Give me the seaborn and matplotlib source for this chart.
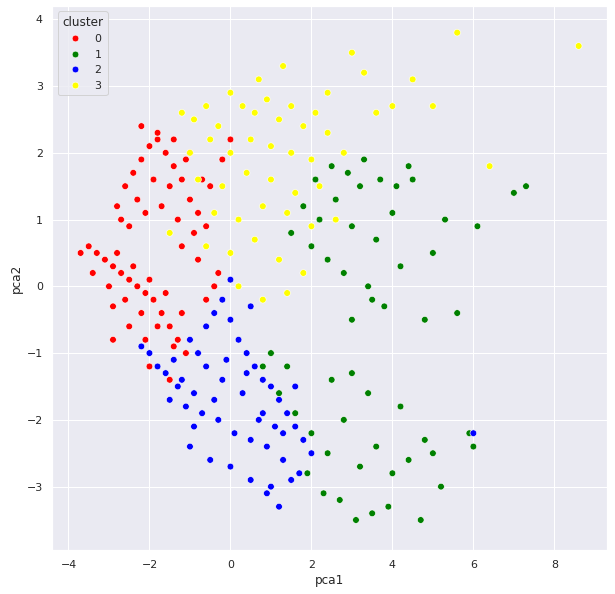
import pandas as pd
import matplotlib
matplotlib.use("Agg")
from matplotlib import pyplot as plt
import seaborn as sns
sns.set()

# points (representative sample per cluster)
red_x = [-3.7, -3.5, -3.3, -3.1, -2.9, -2.7, -2.5, -2.3, -2.1, -1.9, -1.7, -1.5, -1.3, -1.1,
         -3.4, -3.0, -2.6, -2.2, -1.8, -1.4, -2.8, -2.4, -2.0, -1.6, -1.2, -2.9, -2.5, -2.1,
         -2.8, -2.6, -2.4, -2.2, -2.0, -1.8, -1.6, -1.4, -1.2, -1.0, -0.8, -0.6,
         -2.7, -2.3, -1.9, -1.5, -1.1, -0.7, -2.5, -2.1, -1.7, -1.3, -0.9, -2.2, -1.8, -1.4,
         -1.0, -0.5, -0.3, -0.8, -0.4, -1.2, -0.6, -2.9, -2.0, -1.5, -0.2, 0.0]
red_y = [0.5, 0.6, 0.5, 0.4, 0.3, 0.2, 0.1, 0.0, -0.1, -0.2, -0.4, -0.6, -0.8, -1.0,
         0.2, 0.0, -0.2, -0.4, -0.6, -0.9, 0.5, 0.3, 0.1, -0.1, -0.4, -0.3, -0.6, -0.8,
         1.2, 1.5, 1.7, 1.9, 2.1, 2.2, 2.0, 1.8, 1.6, 1.3, 1.1, 0.9,
         1.0, 1.3, 1.6, 1.5, 1.9, 1.6, 0.9, 1.1, 1.2, 1.0, 0.8, 2.4, 2.3, 2.2,
         2.0, 1.5, 0.2, 0.4, 0.0, 0.6, -0.2, -0.8, -1.2, -1.4, 1.9, 2.2]

green_x = [1.5, 1.8, 2.0, 2.2, 2.4, 2.6, 2.8, 3.0, 3.2, 3.4, 3.6, 3.8, 4.0, 4.2, 4.5, 4.8,
           5.0, 5.3, 5.6, 6.1, 7.0, 7.3, 2.1, 2.5, 2.9, 3.3, 3.7, 4.1, 4.4, 3.0, 3.5,
           1.2, 1.6, 2.0, 2.4, 2.8, 3.2, 3.6, 4.0, 4.4, 4.8, 5.2, 5.9, 6.0, 1.9, 2.3,
           2.7, 3.1, 3.5, 3.9, 4.7, 2.5, 3.0, 3.4, 1.4, 4.2, 5.0, 0.8, 1.0]
green_y = [0.8, 1.2, 0.6, 1.0, 0.4, 1.3, 0.2, 0.9, 1.5, 0.0, 0.7, -0.3, 1.1, 0.3, 1.6, -0.5,
           0.5, 1.0, -0.4, 0.9, 1.4, 1.5, 1.6, 1.8, 1.7, 1.9, 1.6, 1.5, 1.8, -0.5, -0.2,
           -1.6, -1.9, -2.2, -2.5, -2.0, -2.7, -2.4, -2.8, -2.6, -2.3, -3.0, -2.2, -2.4,
           -2.8, -3.1, -3.2, -3.5, -3.4, -3.3, -3.5, -1.4, -1.3, -1.6, -1.2, -1.8, -2.5,
           -1.2, -1.0]

blue_x = [-2.2, -2.0, -1.8, -1.6, -1.4, -1.2, -1.0, -0.8, -0.6, -0.4, -0.2, 0.0, 0.2, 0.4,
          0.6, 0.8, 1.0, 1.2, 1.4, 1.6, 1.8, 2.0, -1.5, -1.1, -0.7, -0.3, 0.1, 0.5, 0.9,
          1.3, 1.7, -1.0, -0.5, 0.0, 0.5, 1.0, 1.5, -0.2, 0.3, 0.8, 1.3, -0.6, -0.1, 0.4,
          -1.3, -0.9, -0.4, 0.7, 1.1, 1.6, 0.0, 0.5, 1.2, 6.0, -0.9, 0.9]
blue_y = [-0.9, -1.0, -1.2, -1.3, -1.1, -1.4, -0.8, -1.0, -0.6, -0.4, -0.2, -0.5, -0.8, -1.0,
          -1.2, -1.4, -1.5, -1.7, -1.9, -2.1, -2.3, -2.5, -1.7, -1.8, -1.9, -2.0, -2.2, -2.3,
          -2.4, -2.6, -2.8, -2.4, -2.6, -2.7, -2.9, -3.0, -2.9, -1.4, -1.6, -1.9, -2.2,
          -1.2, -1.1, -1.3, -1.5, -1.6, -1.7, -2.0, -2.1, -1.5, 0.1, -0.3, -3.3, -2.2, -2.1,
          -3.1]

yellow_x = [-1.2, -0.9, -0.6, -0.3, 0.0, 0.3, 0.6, 0.9, 1.2, 1.5, 1.8, 2.1, 2.4, -1.0, -0.5,
            0.0, 0.5, 1.0, 1.5, 2.0, -0.8, -0.2, 0.4, 1.0, 1.6, 2.2, -0.4, 0.2, 0.8, 1.4,
            2.0, 2.6, -0.6, 0.0, 0.6, 1.2, 1.8, 0.2, 0.8, 1.4, 2.8, 3.0, 3.6, 4.0, 4.5, 5.0,
            5.6, 6.4, 8.6, 1.3, 0.7, 3.3, -1.5, 2.4]
yellow_y = [2.6, 2.5, 2.7, 2.4, 2.9, 2.7, 2.6, 2.8, 2.5, 2.7, 2.4, 2.6, 2.3, 2.0, 2.2,
            2.0, 2.2, 2.1, 2.0, 1.9, 1.6, 1.5, 1.7, 1.6, 1.4, 1.5, 1.1, 1.0, 1.2, 1.1,
            0.9, 1.0, 0.6, 0.5, 0.7, 0.4, 0.2, 0.0, -0.2, -0.1, 2.0, 3.5, 2.6, 2.7, 3.1, 2.7,
            3.8, 1.8, 3.6, 3.3, 3.1, 3.2, 0.8, 2.9]

df = pd.concat([
    pd.DataFrame({'pca1': red_x, 'pca2': red_y, 'cluster': 0}),
    pd.DataFrame({'pca1': green_x, 'pca2': green_y, 'cluster': 1}),
    pd.DataFrame({'pca1': blue_x, 'pca2': blue_y, 'cluster': 2}),
    pd.DataFrame({'pca1': yellow_x, 'pca2': yellow_y, 'cluster': 3}),
])

fig, ax = plt.subplots(figsize=(615 / 72, 594 / 72), dpi=72)
sns.scatterplot(data=df, x='pca1', y='pca2', hue='cluster',
                palette=['red', 'green', 'blue', 'yellow'], s=45,
                edgecolor='white', linewidth=0.6, ax=ax)
ax.legend(title='cluster', loc='upper left')
ax.set_xlim(-4.4, 9.3)
ax.set_ylim(-3.95, 4.2)
fig.subplots_adjust(left=0.085, right=0.987, top=0.99, bottom=0.074)
fig.savefig('out.png', dpi=72)
